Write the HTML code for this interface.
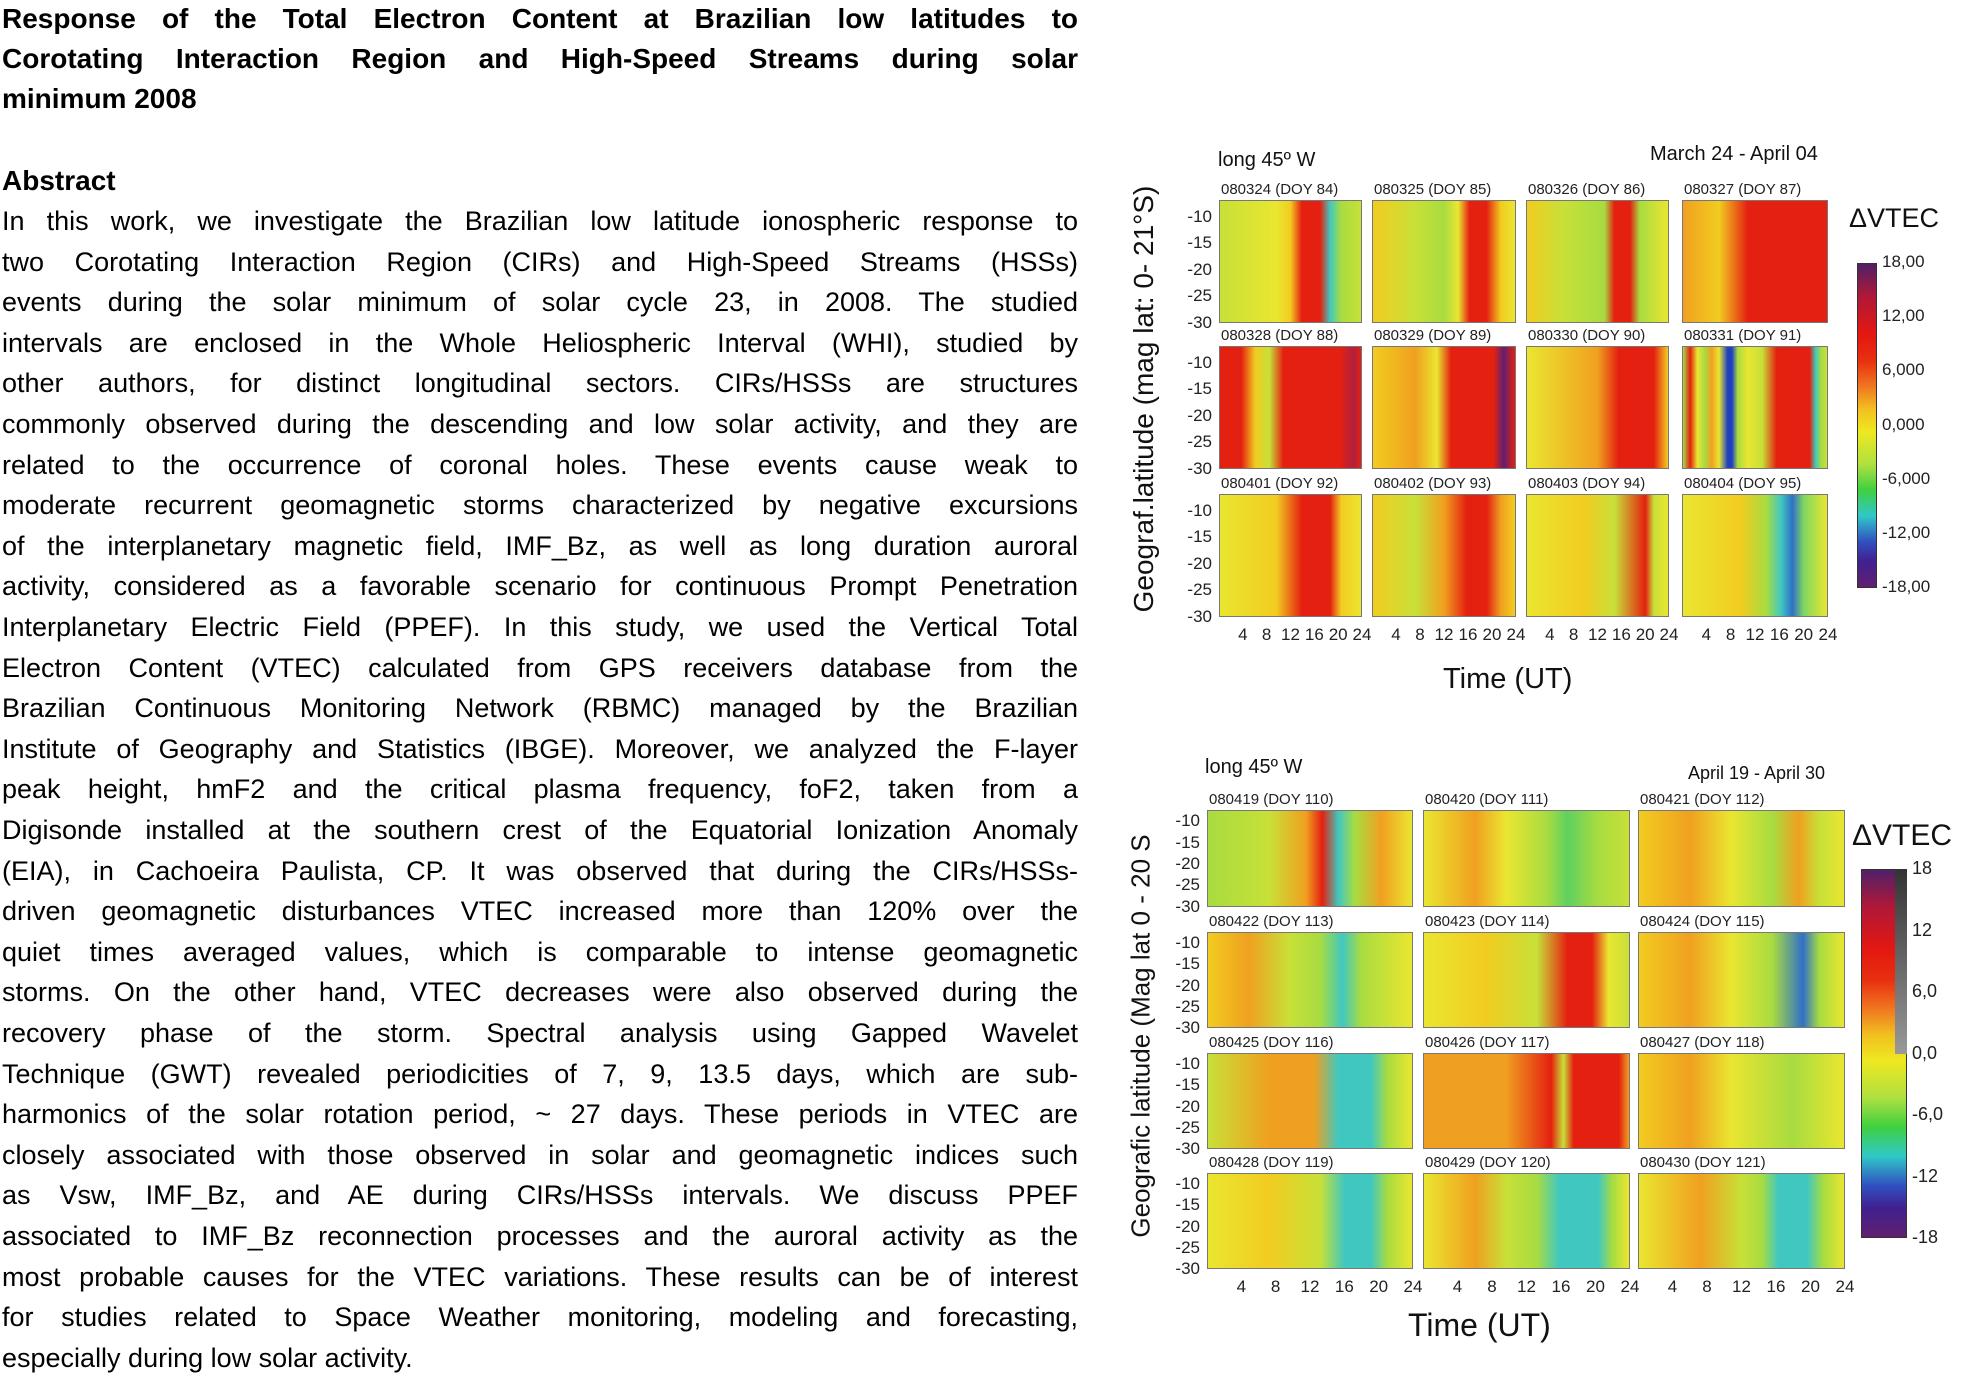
<!DOCTYPE html>
<html><head><meta charset="utf-8">
<style>
html,body{margin:0;padding:0;background:#fff;}
body{width:1961px;height:1377px;position:relative;overflow:hidden;font-family:"Liberation Sans",sans-serif;color:#000;}
.ln{position:absolute;left:2px;width:1076px;height:40px;line-height:40px;font-size:27px;text-align:justify;text-align-last:justify;white-space:nowrap;}
.ln.l{text-align-last:left;}
.t{font-weight:bold;font-size:28px;}
.p{position:absolute;border:1px solid #777;box-sizing:border-box;}
.s{position:absolute;font-size:15px;color:#222;white-space:nowrap;}
.tk{position:absolute;font-size:17px;color:#222;white-space:nowrap;}
.big{position:absolute;white-space:nowrap;color:#111;}
</style></head><body>
<div id="txt"></div>
<div id="fig"></div>
<script>
var title=["Response of the Total Electron Content at Brazilian low latitudes to","Corotating Interaction Region and High-Speed Streams during solar","minimum 2008"];
var body=["In this work, we investigate the Brazilian low latitude ionospheric response to",
"two Corotating Interaction Region (CIRs) and High-Speed Streams (HSSs)",
"events during the solar minimum of solar cycle 23, in 2008. The studied",
"intervals are enclosed in the Whole Heliospheric Interval (WHI), studied by",
"other authors, for distinct longitudinal sectors. CIRs/HSSs are structures",
"commonly observed during the descending and low solar activity, and they are",
"related to the occurrence of coronal holes. These events cause weak to",
"moderate recurrent geomagnetic storms characterized by negative excursions",
"of the interplanetary magnetic field, IMF_Bz, as well as long duration auroral",
"activity, considered as a favorable scenario for continuous Prompt Penetration",
"Interplanetary Electric Field (PPEF). In this study, we used the Vertical Total",
"Electron Content (VTEC) calculated from GPS receivers database from the",
"Brazilian Continuous Monitoring Network (RBMC) managed by the Brazilian",
"Institute of Geography and Statistics (IBGE). Moreover, we analyzed the F-layer",
"peak height, hmF2 and the critical plasma frequency, foF2, taken from a",
"Digisonde installed at the southern crest of the Equatorial Ionization Anomaly",
"(EIA), in Cachoeira Paulista, CP. It was observed that during the CIRs/HSSs-",
"driven geomagnetic disturbances VTEC increased more than 120% over the",
"quiet times averaged values, which is comparable to intense geomagnetic",
"storms.  On the other hand, VTEC decreases were also observed during the",
"recovery phase of the storm. Spectral analysis using Gapped Wavelet",
"Technique (GWT) revealed periodicities of 7, 9, 13.5 days, which are sub-",
"harmonics of the solar rotation period, ~ 27 days. These periods in VTEC are",
"closely associated with those observed in solar and geomagnetic indices such",
"as Vsw, IMF_Bz, and AE during CIRs/HSSs intervals. We discuss PPEF",
"associated to IMF_Bz reconnection processes and the auroral activity as the",
"most probable causes for the VTEC variations. These results can be of interest",
"for studies related to Space Weather monitoring, modeling and forecasting,",
"especially during low solar activity."];
var h="";
title.forEach(function(s,i){h+='<div class="ln t'+(i==2?' l':'')+'" style="top:'+(19+40*i-20)+'px">'+s+'</div>';});
h+='<div class="ln t l" style="top:161px">Abstract</div>';
body.forEach(function(s,i){h+='<div class="ln'+(i==body.length-1?' l':'')+'" style="top:'+(221+40.6*i-20).toFixed(1)+'px">'+s+'</div>';});
document.getElementById('txt').innerHTML=h;

function G(st){return 'linear-gradient(to right,'+st+')';}
var Y='#eae630',YO='#f2cc20',O='#f0a020',R='#e42010',GR='#a8dc40',LG='#c8e038',C='#40c8c0',B='#2040c0',P='#602070';
var topG=[
[LG+' 0%,'+Y+' 40%,'+YO+' 50%,'+R+' 58%,'+R+' 71%,'+C+' 78%,'+GR+' 86%,'+LG+' 100%'],
[YO+' 0%,'+LG+' 30%,'+GR+' 50%,'+Y+' 60%,'+R+' 68%,'+R+' 80%,'+YO+' 90%,'+Y+' 100%'],
[YO+' 0%,'+LG+' 25%,'+GR+' 55%,'+R+' 62%,'+R+' 73%,'+GR+' 80%,'+Y+' 100%'],
[O+' 0%,'+YO+' 25%,'+R+' 45%,'+R+' 100%'],
[R+' 0%,'+R+' 15%,'+YO+' 25%,'+LG+' 35%,'+R+' 45%,'+R+' 85%,#b02040 95%,'+R+' 100%'],
[YO+' 0%,'+O+' 30%,'+Y+' 45%,'+R+' 55%,'+R+' 85%,'+P+' 92%,'+R+' 100%'],
[Y+' 0%,'+O+' 50%,'+R+' 65%,'+R+' 90%,'+YO+' 100%'],
[GR+' 0%,'+R+' 5%,'+Y+' 10%,'+GR+' 15%,'+O+' 20%,'+Y+' 25%,'+B+' 31%,'+B+' 34%,'+GR+' 38%,'+Y+' 45%,'+LG+' 55%,'+R+' 65%,'+R+' 88%,'+C+' 92%,'+GR+' 96%,'+LG+' 100%'],
[Y+' 0%,'+YO+' 40%,'+R+' 58%,'+R+' 78%,'+YO+' 86%,'+Y+' 100%'],
[YO+' 0%,'+LG+' 30%,'+O+' 50%,'+R+' 66%,'+R+' 80%,'+O+' 90%,'+YO+' 100%'],
[Y+' 0%,'+YO+' 40%,'+LG+' 62%,'+R+' 84%,'+LG+' 90%,'+Y+' 100%'],
[Y+' 0%,'+YO+' 40%,'+GR+' 58%,'+C+' 68%,'+'#3070c8 76%,'+'#80d860 84%,'+Y+' 100%']];
var tl=['080324 (DOY 84)','080325 (DOY 85)','080326 (DOY 86)','080327 (DOY 87)','080328 (DOY 88)','080329 (DOY 89)','080330 (DOY 90)','080331 (DOY 91)','080401 (DOY 92)','080402 (DOY 93)','080403 (DOY 94)','080404 (DOY 95)'];
var f="";
var tx=[[1219,1362],[1372,1516],[1526,1669],[1682,1828]], ty=[[200,323],[346,469],[494,617]];
for(var r=0;r<3;r++)for(var c=0;c<4;c++){var k=r*4+c,x0=tx[c][0],w=tx[c][1]-x0,y0=ty[r][0],hh=ty[r][1]-y0;
f+='<div class="p" style="left:'+x0+'px;top:'+y0+'px;width:'+w+'px;height:'+hh+'px;background:'+G(topG[k])+'"></div>';
f+='<div class="s" style="left:'+(x0+2)+'px;top:'+(y0-19)+'px">'+tl[k]+'</div>';
if(c==0){[-10,-15,-20,-25,-30].forEach(function(v,i){var yy=y0+hh*(0.136+0.216*i);f+='<div class="tk" style="left:'+(x0-45)+'px;top:'+(yy-10)+'px;width:38px;text-align:right">'+v+'</div>';});}
if(r==2){[4,8,12,16,20,24].forEach(function(v){var xx=x0+w*v/24;f+='<div class="tk" style="left:'+(xx-15)+'px;top:'+(y0+hh+8)+'px;width:30px;text-align:center">'+v+'</div>';});}
}
var cb='linear-gradient(to bottom,#502068 0%,#b01838 10%,#e41810 22%,#e83010 30%,#f07820 38%,#f2c020 45%,#eee820 52%,#b0e040 62%,#40d040 70%,#30c8c8 78%,#3050c0 86%,#402090 92%,#602070 100%)';
f+='<div class="p" style="left:1857px;top:263px;width:20px;height:325px;background:'+cb+';border-color:#333"></div>';
['18,00','12,00','6,000','0,000','-6,000','-12,00','-18,00'].forEach(function(v,i){f+='<div class="tk" style="left:1882px;top:'+(252+54.2*i)+'px">'+v+'</div>';});
f+='<div class="big" style="left:1849px;top:203px;font-size:27px">ΔVTEC</div>';
f+='<div class="big" style="left:1218px;top:149px;font-size:20px">long 45º W</div>';
f+='<div class="big" style="left:1650px;top:143px;font-size:20px">March 24 - April 04</div>';
f+='<div class="big" style="left:1443px;top:663px;font-size:29px">Time (UT)</div>';
f+='<div class="big" style="left:1144px;top:399px;font-size:28px;transform:translate(-50%,-50%) rotate(-90deg);transform-origin:center">Geograf.latitude (mag lat: 0- 21°S)</div>';

var bot=[
[GR+' 0%,'+LG+' 30%,'+O+' 48%,'+R+' 56%,'+C+' 64%,'+GR+' 72%,'+O+' 85%,'+Y+' 100%'],
[Y+' 0%,'+O+' 25%,'+Y+' 40%,'+GR+' 60%,'+'#60d060 70%,'+GR+' 85%,'+LG+' 100%'],
[YO+' 0%,'+O+' 25%,'+Y+' 45%,'+GR+' 65%,'+O+' 78%,'+LG+' 88%,'+Y+' 100%'],
[YO+' 0%,'+O+' 20%,'+LG+' 40%,'+GR+' 55%,'+C+' 66%,'+GR+' 75%,'+Y+' 100%'],
[Y+' 0%,'+YO+' 30%,'+LG+' 55%,'+R+' 70%,'+R+' 82%,'+Y+' 90%,'+LG+' 100%'],
[YO+' 0%,'+O+' 25%,'+Y+' 45%,'+GR+' 65%,'+'#3070c8 80%,'+GR+' 88%,'+Y+' 100%'],
[LG+' 0%,'+O+' 30%,'+O+' 52%,'+C+' 64%,'+C+' 80%,'+GR+' 88%,'+Y+' 100%'],
[O+' 0%,'+O+' 40%,'+R+' 62%,'+LG+' 68%,'+R+' 73%,'+R+' 95%,'+O+' 100%'],
[YO+' 0%,'+O+' 25%,'+Y+' 45%,'+LG+' 60%,'+GR+' 75%,'+Y+' 100%'],
[Y+' 0%,'+YO+' 30%,'+LG+' 55%,'+C+' 67%,'+C+' 80%,'+GR+' 88%,'+Y+' 100%'],
[Y+' 0%,'+O+' 25%,'+LG+' 40%,'+GR+' 55%,'+C+' 66%,'+C+' 85%,'+GR+' 92%,'+Y+' 100%'],
[Y+' 0%,'+O+' 30%,'+LG+' 50%,'+GR+' 60%,'+C+' 68%,'+C+' 82%,'+GR+' 90%,'+Y+' 100%']];
var bl=[];for(var d=0;d<12;d++){var day=19+d;bl.push('0804'+day+' (DOY '+(110+d)+')');}
var bx=[[1207,1413],[1423,1630],[1638,1845]], by=[[810,907],[932,1028],[1053,1149],[1173,1269]];
for(var r=0;r<4;r++)for(var c=0;c<3;c++){var k=r*3+c,x0=bx[c][0],w=bx[c][1]-x0,y0=by[r][0],hh=by[r][1]-y0;
f+='<div class="p" style="left:'+x0+'px;top:'+y0+'px;width:'+w+'px;height:'+hh+'px;background:'+G(bot[k])+'"></div>';
f+='<div class="s" style="left:'+(x0+2)+'px;top:'+(y0-19)+'px">'+bl[k]+'</div>';
if(c==0){[-10,-15,-20,-25,-30].forEach(function(v,i){var yy=y0+hh*(0.118+0.22*i);f+='<div class="tk" style="left:'+(x0-45)+'px;top:'+(yy-10)+'px;width:38px;text-align:right">'+v+'</div>';});}
if(r==3){[4,8,12,16,20,24].forEach(function(v){var xx=x0+w*v/24;f+='<div class="tk" style="left:'+(xx-15)+'px;top:'+(y0+hh+8)+'px;width:30px;text-align:center">'+v+'</div>';});}
}
f+='<div class="p" style="left:1861px;top:869px;width:46px;height:369px;background:'+cb+';border-color:#333"></div>';
f+='<div style="position:absolute;left:1895px;top:869px;width:12px;height:185px;background:linear-gradient(#333,#999)"></div>';
['18','12','6,0','0,0','-6,0','-12','-18'].forEach(function(v,i){f+='<div class="tk" style="left:1912px;top:'+(858+61.5*i)+'px;font-size:18px">'+v+'</div>';});
f+='<div class="big" style="left:1852px;top:819px;font-size:30px">ΔVTEC</div>';
f+='<div class="big" style="left:1205px;top:756px;font-size:20px">long 45º W</div>';
f+='<div class="big" style="left:1688px;top:763px;font-size:18px">April 19 - April 30</div>';
f+='<div class="big" style="left:1408px;top:1307px;font-size:32px">Time (UT)</div>';
f+='<div class="big" style="left:1141px;top:1036px;font-size:26px;transform:translate(-50%,-50%) rotate(-90deg);transform-origin:center">Geografic latitude (Mag lat 0 - 20 S</div>';
document.getElementById('fig').innerHTML=f;
</script>
</body></html>
